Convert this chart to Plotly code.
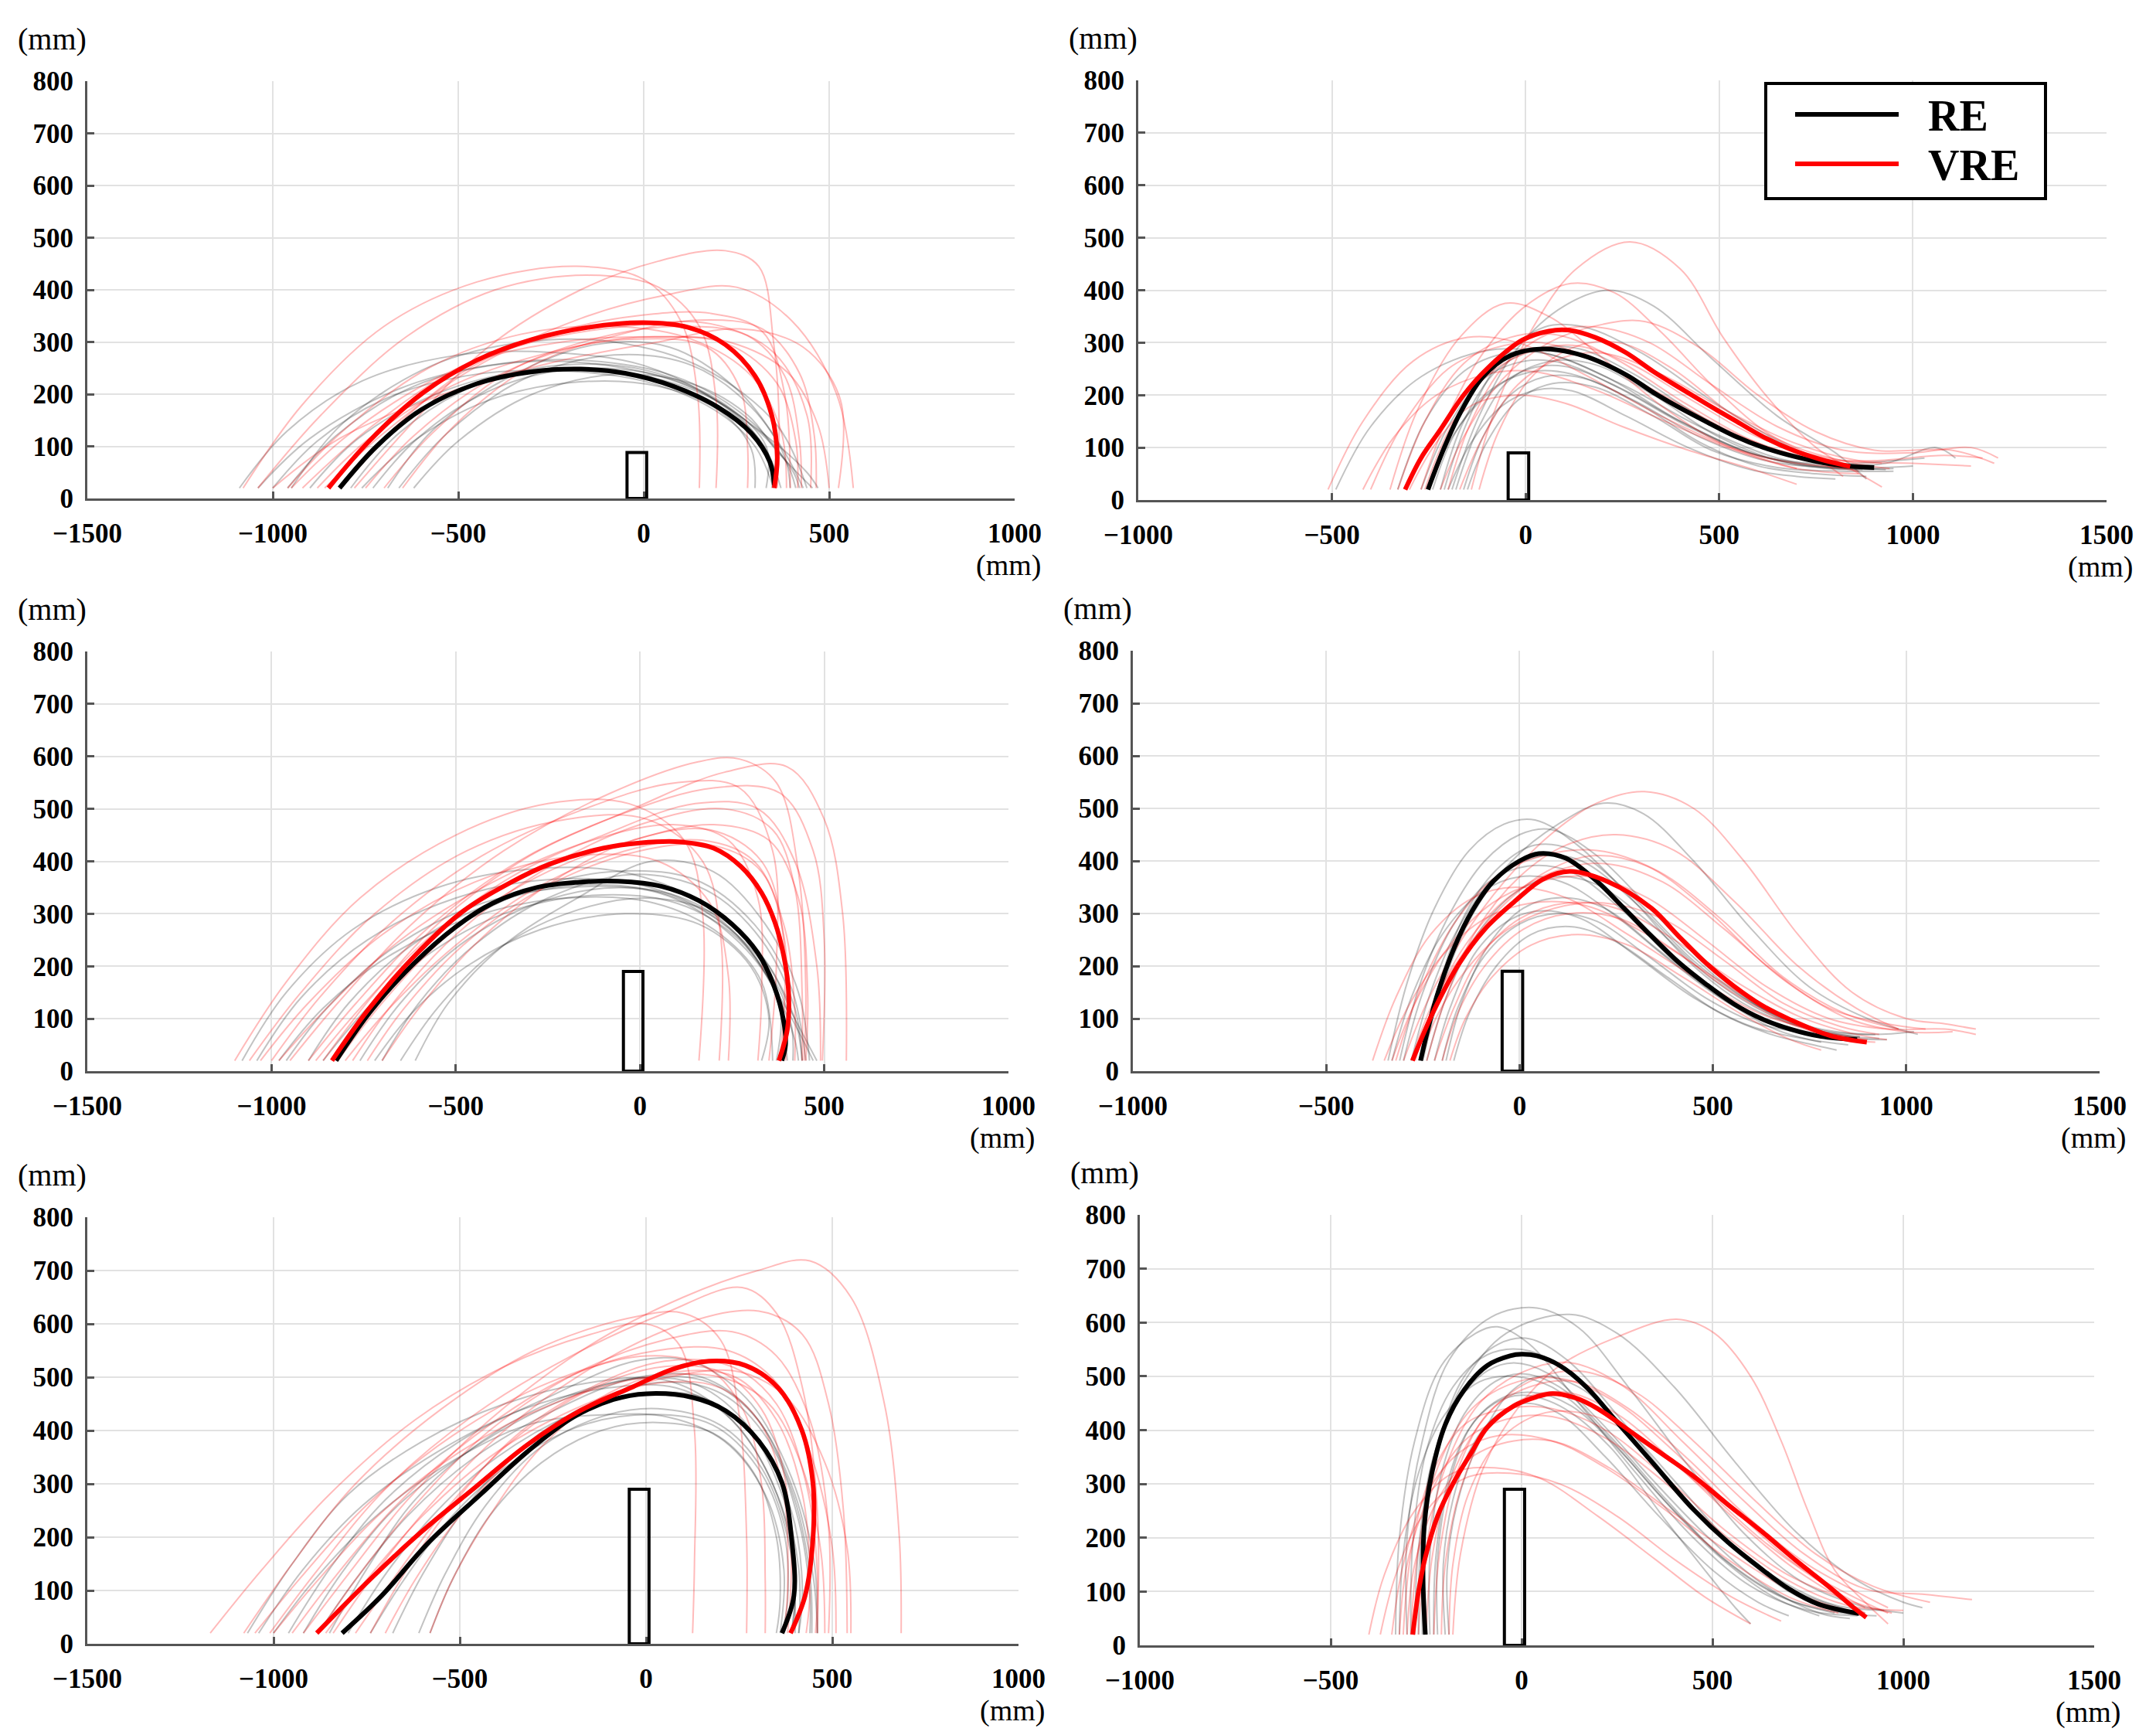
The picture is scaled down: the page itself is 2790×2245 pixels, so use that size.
import plotly.graph_objects as go

# ---------------- DATA (mm) ----------------
X_TICKS_LEFT = [-1500, -1000, -500, 0, 500, 1000]
X_TICKS_RIGHT = [-1000, -500, 0, 500, 1000, 1500]
Y_TICKS = [0, 100, 200, 300, 400, 500, 600, 700, 800]
SERIES_NAMES = ["RE", "VRE"]
OBSTACLE_X = (-45, 8)
OBSTACLE_H = [88, 90, 190, 190, 290, 290]

# Panel 1 (top-left)
P1_RE_MEAN = [(-820,20),(-720,100),(-600,170),(-450,220),(-300,243),(-170,248),(-50,240),(80,215),(200,175),(290,125),(340,70),(352,25)]
P1_VRE_MEAN = [(-850,20),(-740,110),(-600,200),(-450,265),(-300,305),(-150,328),(0,337),(120,328),(220,295),(300,235),(345,160),(360,80),(352,20)]
P1_RE_TRIALS = [
 [(-1090,20),(-960,130),(-760,225),(-500,275),(-250,280),(0,255),(200,185),(320,105),(370,20)],
 [(-1040,20),(-900,115),(-660,210),(-420,255),(-170,265),(80,235),(260,165),(380,75),(410,20)],
 [(-960,20),(-830,120),(-620,215),(-380,258),(-130,258),(120,215),(300,135),(400,55),(420,20)],
 [(-900,20),(-770,115),(-560,200),(-320,245),(-80,245),(160,200),(330,120),(440,50),(470,20)],
 [(-790,20),(-660,125),(-460,215),(-230,255),(10,245),(220,180),(330,100),(330,20)],
 [(-730,20),(-610,115),(-420,205),(-190,248),(60,232),(260,155),(350,60),(345,20)],
 [(-690,20),(-570,130),(-370,230),(-130,295),(70,290),(250,210),(370,100),(430,20)],
 [(-660,20),(-530,125),(-320,230),(-80,275),(130,255),(290,175),(380,80),(395,20)],
 [(-620,20),(-500,110),(-300,200),(-70,238),(130,220),(280,160),(360,90),(455,20)],
 [(-950,20),(-810,145),(-570,255),(-320,300),(-80,300),(160,250),(360,140),(440,20)],
 [(-760,20),(-630,105),(-430,185),(-200,222),(40,215),(210,165),(290,95),(300,20)],
 [(-1000,20),(-880,110),(-700,190),(-480,235),(-250,245),(0,225),(190,170),(300,100),(350,20)],
]
P1_VRE_TRIALS = [
 [(-1080,20),(-920,180),(-700,330),(-450,415),(-180,445),(0,420),(100,340),(145,200),(150,20)],
 [(-1040,20),(-870,160),(-640,310),(-400,400),(-150,428),(40,405),(150,330),(195,190),(195,20)],
 [(-960,20),(-810,130),(-580,250),(-330,315),(-80,330),(130,305),(290,235),(370,130),(385,20)],
 [(-920,20),(-730,140),(-480,255),(-220,300),(30,310),(230,300),(390,240),(470,140),(500,20)],
 [(-1000,20),(-820,115),(-540,200),(-250,260),(40,300),(260,325),(430,290),(530,190),(525,20)],
 [(-860,20),(-710,120),(-470,245),(-170,345),(60,390),(250,405),(400,340),(520,200),(565,20)],
 [(-780,20),(-630,140),(-420,290),(-170,400),(40,455),(220,475),(310,445),(350,300),(365,150),(360,20)],
 [(-700,20),(-570,125),(-360,245),(-110,310),(100,330),(280,312),(380,235),(420,110),(425,20)],
 [(-650,20),(-510,140),(-300,255),(-60,315),(150,342),(320,325),(420,240),(460,120),(465,20)],
 [(-820,20),(-680,130),(-470,250),(-230,320),(-20,350),(180,355),(320,320),(380,200),(395,20)],
 [(-880,20),(-740,115),(-520,215),(-280,275),(-40,305),(170,290),(260,210),(280,100),(280,20)],
 [(-750,20),(-620,120),(-420,225),(-190,290),(30,310),(230,295),(360,220),(410,110),(415,20)],
 [(-950,20),(-800,120),(-560,230),(-300,300),(-50,330),(180,335),(350,280),(440,160),(450,20)],
]

# Panel 2 (top-right)
P2_RE_MEAN = [(-252,20),(-210,100),(-168,167),(-110,235),(-40,275),(45,288),(150,275),(259,239),(330,205),(400,175),(470,148),(540,122),(615,100),(700,82),(793,68),(900,62)]
P2_VRE_MEAN = [(-311,20),(-270,80),(-222,132),(-160,200),(-100,250),(-8,305),(60,322),(108,324),(180,310),(259,281),(330,245),(400,213),(470,182),(540,152),(615,120),(690,95),(760,78),(838,64)]
P2_RE_TRIALS = [
 [(-490,20),(-400,140),(-270,235),(-100,285),(50,280),(250,220),(450,140),(650,80),(800,62),(880,60)],
 [(-210,20),(-150,150),(-60,270),(50,330),(150,330),(300,280),(500,180),(700,95),(850,62),(950,60)],
 [(-190,20),(-120,160),(-20,290),(100,370),(215,400),(330,370),(480,270),(650,160),(800,90),(880,40)],
 [(-160,20),(-110,120),(-40,200),(50,235),(150,232),(300,180),(450,110),(600,65),(750,50),(880,45)],
 [(-240,20),(-180,130),(-90,210),(20,245),(120,240),(280,190),(450,120),(620,75),(800,60),(900,58)],
 [(-150,20),(-100,110),(-20,190),(70,222),(180,215),(330,160),(480,95),(650,62),(820,55),(950,55)],
 [(-270,20),(-200,140),(-110,230),(0,265),(100,260),(250,210),(420,140),(600,85),(780,68),(930,70),(1060,100),(1110,80)],
 [(-220,20),(-160,150),(-70,250),(40,290),(140,288),(280,240),(450,160),(630,95),(800,70),(950,75),(1030,80)],
 [(-180,20),(-120,140),(-40,230),(70,265),(180,258),(330,200),(500,120),(680,70),(850,60),(930,58)],
 [(-330,20),(-260,150),(-160,245),(-50,280),(60,278),(220,230),(400,150),(600,85),(800,62),(1000,65)],
 [(-200,20),(-140,110),(-60,180),(30,210),(120,208),(260,160),(420,100),(580,58),(700,45),(800,40)],
 [(-250,20),(-190,120),(-100,200),(10,250),(100,255),(240,215),(400,150),(580,90),(760,62),(870,58)],
]
P2_VRE_TRIALS = [
 [(-510,20),(-420,150),(-290,265),(-150,310),(-20,300),(150,240),(350,160),(550,95),(700,70),(900,60)],
 [(-140,20),(-80,170),(20,330),(130,440),(270,492),(400,440),(510,310),(620,200),(750,100),(850,55),(920,25)],
 [(-270,20),(-200,160),(-110,280),(0,370),(117,413),(230,395),(350,320),(480,220),(620,130),(760,75),(820,45)],
 [(-350,20),(-280,170),(-170,310),(-53,375),(60,350),(200,270),(350,180),(500,110),(650,70),(700,60)],
 [(-220,20),(-160,120),(-60,230),(60,300),(200,335),(310,340),(450,290),(600,200),(750,130),(900,95),(1100,95),(1210,70)],
 [(-300,20),(-230,110),(-140,180),(-20,200),(100,185),(250,140),(420,95),(580,60),(700,30)],
 [(-400,20),(-320,140),(-200,250),(-80,290),(40,300),(200,260),(380,190),(560,120),(740,80),(900,75),(1080,85),(1180,80)],
 [(-200,20),(-140,150),(-50,260),(70,320),(180,330),(320,300),(480,220),(650,140),(820,95),(1000,90),(1150,100),(1220,80)],
 [(-260,20),(-200,130),(-110,230),(0,280),(120,295),(270,260),(430,190),(600,120),(780,80),(920,70)],
 [(-170,20),(-110,120),(-20,220),(90,270),(200,280),(350,240),(520,170),(690,110),(860,75),(1000,70),(1150,65)],
 [(-420,20),(-340,120),(-230,200),(-100,240),(20,245),(180,210),(360,150),(540,95),(700,60),(860,50)],
 [(-330,20),(-260,150),(-160,260),(-40,310),(80,315),(230,270),(400,190),(580,115),(760,70),(860,55)],
 [(-120,20),(-70,130),(10,230),(120,290),(240,300),(380,250),(540,160),(700,100),(850,70),(940,60)],
]

# Panel 3 (middle-left)
P3_RE_MEAN = [(-825,20),(-730,115),(-614,205),(-500,275),(-400,320),(-280,350),(-170,360),(-60,362),(60,352),(160,325),(250,280),(320,225),(365,160),(390,95),(395,50),(385,20)]
P3_VRE_MEAN = [(-836,20),(-740,115),(-614,218),(-480,305),(-350,360),(-244,395),(-100,425),(0,435),(110,437),(200,425),(274,390),(330,340),(366,284),(390,220),(403,153),(400,80),(377,20)]
P3_RE_TRIALS = [
 [(-1080,20),(-960,150),(-780,270),(-550,350),(-300,385),(-50,380),(170,320),(330,220),(420,100),(440,20)],
 [(-1040,20),(-920,140),(-740,250),(-500,330),(-250,365),(0,355),(200,295),(350,190),(410,90),(415,20)],
 [(-960,20),(-850,120),(-680,230),(-450,315),(-200,350),(50,340),(230,270),(360,160),(400,20)],
 [(-900,20),(-790,130),(-620,240),(-400,320),(-150,355),(80,335),(260,260),(380,140),(470,20)],
 [(-860,20),(-740,120),(-580,220),(-370,300),(-130,335),(100,320),(270,250),(370,150),(420,60),(430,20)],
 [(-760,20),(-650,130),(-490,240),(-280,320),(-50,350),(150,320),(300,230),(380,120),(370,20)],
 [(-700,20),(-600,130),(-450,240),(-250,330),(-20,375),(180,345),(330,250),(420,120),(440,20)],
 [(-650,20),(-550,120),(-400,225),(-200,300),(20,330),(200,300),(340,210),(420,100),(480,20)],
 [(-610,20),(-520,130),(-370,240),(-170,330),(30,400),(200,380),(340,280),(430,150),(460,20)],
 [(-820,20),(-700,140),(-530,260),(-320,340),(-80,380),(150,365),(310,280),(410,160),(450,20)],
 [(-980,20),(-860,120),(-680,220),(-450,295),(-200,330),(40,320),(220,260),(330,170),(360,20)],
 [(-720,20),(-620,110),(-470,200),(-270,270),(-40,300),(160,280),(300,200),(350,100),(330,20)],
]
P3_VRE_TRIALS = [
 [(-1100,20),(-960,170),(-760,330),(-500,450),(-250,510),(-30,510),(120,440),(170,300),(160,20)],
 [(-1060,20),(-920,150),(-720,300),(-470,420),(-200,480),(20,480),(170,400),(220,250),(215,20)],
 [(-1000,20),(-870,140),(-680,280),(-430,410),(-150,500),(100,550),(270,540),(360,420),(370,200),(350,20)],
 [(-950,20),(-820,130),(-620,280),(-370,420),(-80,530),(160,590),(270,595),(370,550),(430,380),(450,150),(445,20)],
 [(-900,20),(-770,130),(-580,270),(-330,400),(-50,490),(200,540),(380,530),(470,420),(500,250),(495,20)],
 [(-860,20),(-730,140),(-550,280),(-300,410),(-20,500),(230,570),(400,580),(500,480),(550,300),(560,20)],
 [(-820,20),(-700,130),(-520,260),(-280,370),(-20,440),(200,470),(350,440),(430,330),(455,150),(450,20)],
 [(-780,20),(-670,130),(-500,260),(-270,380),(0,470),(230,500),(360,460),(420,350),(440,150),(440,20)],
 [(-740,20),(-640,120),(-480,240),(-260,350),(0,420),(200,430),(330,380),(390,260),(400,100),(395,20)],
 [(-700,20),(-600,120),(-450,240),(-240,360),(-20,440),(190,460),(330,400),(390,250),(380,20)],
 [(-980,20),(-850,120),(-650,250),(-400,360),(-130,440),(90,470),(240,440),(320,330),(330,150),(320,20)],
 [(-880,20),(-760,120),(-580,250),(-350,370),(-100,450),(150,510),(320,500),(420,400),(480,200),(490,20)],
 [(-1030,20),(-900,130),(-700,260),(-450,360),(-180,410),(50,400),(190,320),(240,180),(240,20)],
 [(-800,20),(-680,120),(-500,240),(-280,350),(-40,420),(170,440),(310,400),(390,280),(420,120),(420,20)],
]

# Panel 4 (middle-right)
P4_RE_MEAN = [(-256,20),(-215,140),(-156,257),(-110,320),(-67,362),(0,400),(50,414),(120,405),(199,362),(270,310),(341,257),(410,208),(483,165),(554,128),(625,100),(700,80),(780,66),(873,60)]
P4_VRE_MEAN = [(-277,20),(-225,110),(-156,205),(-90,270),(-14,322),(60,365),(130,380),(230,360),(341,310),(410,258),(483,205),(554,162),(625,126),(700,98),(802,68),(898,55)]
P4_RE_TRIALS = [
 [(-340,20),(-290,170),(-220,310),(-130,420),(-40,470),(40,478),(150,430),(300,320),(450,200),(600,120),(750,80),(880,65)],
 [(-310,20),(-260,160),(-180,300),(-90,400),(0,450),(80,460),(200,410),(350,300),(500,190),(650,110),(800,75),(920,70)],
 [(-280,20),(-230,150),(-160,270),(-60,370),(60,410),(160,400),(300,320),(450,210),(600,130),(750,85),(900,70),(1020,75)],
 [(-250,20),(-200,160),(-120,300),(-20,400),(100,470),(217,510),(320,490),(450,400),(600,270),(750,160),(900,100),(1030,70)],
 [(-220,20),(-180,120),(-110,230),(-20,290),(60,305),(160,290),(300,220),(450,140),(600,85),(750,60),(850,50)],
 [(-200,20),(-160,120),(-90,220),(0,280),(100,300),(200,285),(330,220),(480,140),(620,90),(760,70),(870,60)],
 [(-300,20),(-250,150),(-170,280),(-80,360),(20,390),(130,380),(260,310),(400,210),(550,130),(700,80),(860,60)],
 [(-260,20),(-210,160),(-140,300),(-50,390),(40,430),(140,420),(280,340),(430,230),(580,140),(730,85),(880,65)],
 [(-190,20),(-150,130),(-80,240),(10,310),(110,330),(220,310),(360,230),(520,140),(660,80),(780,55)],
 [(-330,20),(-280,140),(-200,260),(-100,340),(0,370),(110,360),(240,300),(390,210),(540,130),(700,80),(850,62),(950,60)],
 [(-240,20),(-190,140),(-110,260),(-10,340),(90,370),(200,355),(340,280),(490,180),(640,110),(790,72),(930,62)],
 [(-170,20),(-130,110),(-60,200),(30,260),(130,275),(240,250),(380,180),(520,110),(650,70),(760,50),(820,40)],
]
P4_VRE_TRIALS = [
 [(-380,20),(-320,140),(-230,260),(-120,330),(-10,350),(120,330),(280,260),(450,180),(620,110),(780,75),(900,60)],
 [(-330,20),(-270,130),(-180,240),(-70,320),(50,360),(180,370),(330,330),(480,250),(640,160),(800,100),(950,80),(1100,80),(1180,70)],
 [(-300,20),(-240,130),(-150,250),(-40,360),(80,450),(200,510),(323,532),(450,500),(580,400),(720,260),(860,150),(1000,100),(1100,90),(1180,80)],
 [(-280,20),(-230,120),(-150,220),(-50,310),(70,380),(190,410),(330,390),(480,310),(640,200),(800,120),(950,90),(1050,80)],
 [(-260,20),(-210,110),(-130,200),(-30,270),(90,310),(220,320),(370,290),(530,210),(680,130),(830,85),(930,70)],
 [(-240,20),(-190,140),(-110,270),(0,370),(120,430),(250,450),(400,420),(560,320),(720,200),(870,120),(980,80)],
 [(-220,20),(-170,120),(-100,220),(0,290),(120,320),(250,310),(400,250),(560,170),(720,105),(870,70),(950,60)],
 [(-320,20),(-260,150),(-170,280),(-60,370),(60,410),(200,420),(360,380),(520,290),(680,180),(840,110),(980,80)],
 [(-200,20),(-160,110),(-90,200),(10,270),(130,300),(260,290),(400,230),(550,150),(700,90),(850,60),(920,55)],
 [(-350,20),(-290,120),(-200,220),(-90,290),(30,320),(170,315),(330,260),(500,180),(660,110),(800,70),(880,55)],
 [(-180,20),(-140,100),(-70,180),(30,240),(150,260),(280,240),(420,180),(570,110),(700,60),(780,40)],
 [(-270,20),(-220,130),(-140,240),(-30,330),(90,380),(220,395),(370,360),(530,270),(690,170),(850,100),(1000,75),(1120,75)],
]

# Panel 5 (bottom-left)
P5_RE_MEAN = [(-816,20),(-710,90),(-585,189),(-443,281),(-319,360),(-195,425),(-88,458),(1,469),(125,462),(214,437),(303,380),(365,302),(391,196),(397,90),(365,20)]
P5_VRE_MEAN = [(-884,20),(-745,118),(-603,210),(-461,292),(-319,373),(-177,437),(-35,482),(72,515),(169,530),(267,522),(356,479),(418,401),(448,302),(448,196),(427,90),(388,20)]
P5_RE_TRIALS = [
 [(-1070,20),(-950,150),(-800,280),(-600,380),(-380,450),(-150,490),(50,495),(200,440),(320,330),(390,180),(400,20)],
 [(-1040,20),(-920,140),(-760,260),(-560,360),(-330,440),(-100,480),(80,480),(230,420),(340,300),(400,150),(390,20)],
 [(-920,20),(-820,130),(-680,250),(-500,350),(-280,440),(-50,495),(120,490),(260,420),(360,290),(410,140),(410,20)],
 [(-880,20),(-780,120),(-640,240),(-460,350),(-240,440),(-20,500),(150,500),(290,430),(390,290),(440,130),(445,20)],
 [(-800,20),(-700,130),(-560,250),(-400,350),(-200,430),(0,470),(160,460),(300,380),(390,250),(420,100),(410,20)],
 [(-740,20),(-650,120),(-520,240),(-360,340),(-170,410),(20,430),(180,410),(300,330),(370,210),(380,80),(365,20)],
 [(-680,20),(-600,130),(-480,260),(-330,370),(-150,450),(30,490),(200,470),(330,380),(410,230),(440,90),(440,20)],
 [(-610,20),(-540,130),(-430,260),(-280,370),(-100,430),(50,440),(200,410),(310,330),(380,200),(400,80),(390,20)],
 [(-580,20),(-520,120),(-420,240),(-280,340),(-120,400),(30,415),(180,395),(290,320),(350,200),(360,80),(350,20)],
 [(-960,20),(-850,140),(-700,270),(-500,380),(-270,460),(-30,530),(120,530),(270,460),(380,330),(450,160),(460,20)],
 [(-1000,20),(-890,120),(-740,230),(-550,330),(-320,410),(-100,430),(60,425),(210,380),(320,280),(370,140),(360,20)],
 [(-850,20),(-750,140),(-620,270),(-440,380),(-230,460),(0,500),(170,490),(300,420),(400,280),(450,120),(460,20)],
]
P5_VRE_TRIALS = [
 [(-1170,20),(-1030,140),(-850,280),(-620,420),(-380,520),(-150,580),(0,600),(90,560),(130,400),(130,150),(125,20)],
 [(-1080,20),(-950,150),(-780,300),(-550,440),(-300,550),(-50,610),(100,620),(200,570),(250,430),(270,200),(270,20)],
 [(-1010,20),(-880,140),(-700,290),(-460,430),(-200,540),(50,620),(258,668),(350,620),(420,480),(460,250),(460,20)],
 [(-920,20),(-800,130),(-640,270),(-420,420),(-150,560),(100,650),(300,700),(440,718),(550,650),(640,450),(680,200),(685,20)],
 [(-880,20),(-770,130),(-620,260),(-420,400),(-180,510),(50,570),(232,585),(350,540),(440,420),(490,220),(490,20)],
 [(-840,20),(-730,130),(-580,260),(-380,400),(-140,520),(100,600),(303,624),(420,580),(490,450),(530,250),(540,20)],
 [(-780,20),(-680,120),(-540,250),(-360,380),(-140,480),(50,520),(200,510),(310,440),(370,320),(390,150),(380,20)],
 [(-740,20),(-650,130),(-520,260),(-350,390),(-150,480),(50,530),(230,520),(350,450),(430,300),(460,130),(455,20)],
 [(-700,20),(-620,120),(-500,240),(-340,360),(-150,450),(40,490),(200,480),(310,410),(370,280),(380,100),(370,20)],
 [(-580,20),(-520,120),(-420,240),(-280,370),(-100,470),(80,510),(240,500),(350,420),(420,280),(440,100),(430,20)],
 [(-950,20),(-830,130),(-670,260),(-460,390),(-210,500),(30,550),(220,550),(350,490),(440,360),(500,180),(510,20)],
 [(-1050,20),(-920,130),(-750,260),(-520,390),(-260,490),(0,540),(160,520),(260,440),(310,300),(320,120),(320,20)],
 [(-1000,20),(-880,120),(-720,240),(-500,360),(-250,450),(0,500),(200,500),(330,450),(420,330),(470,170),(480,20)],
 [(-860,20),(-750,120),(-600,240),(-400,360),(-160,450),(60,500),(250,510),(380,460),(480,340),(540,180),(550,20)],
]

# Panel 6 (bottom-right)
P6_RE_MEAN = [(-252,20),(-258,120),(-255,220),(-235,320),(-200,410),(-150,475),(-90,520),(-30,538),(0,541),(40,538),(100,520),(170,480),(250,415),(340,342),(451,252),(540,192),(632,140),(700,105),(776,77),(884,59)]
P6_VRE_MEAN = [(-285,20),(-270,100),(-253,161),(-220,240),(-180,300),(-130,360),(-90,405),(-20,445),(40,462),(81,468),(140,460),(199,440),(300,390),(380,350),(451,314),(540,262),(632,210),(720,157),(812,105),(870,70),(903,52)]
P6_RE_TRIALS = [
 [(-330,20),(-320,200),(-280,380),(-210,520),(-120,580),(-63,592),(20,560),(150,450),(300,320),(450,200),(600,110),(750,65),(880,55)],
 [(-300,20),(-300,200),(-260,380),(-190,530),(-80,610),(40,627),(150,590),(280,480),(430,340),(580,210),(730,120),(880,75),(1000,60)],
 [(-280,20),(-270,180),(-230,350),(-150,490),(-40,580),(126,615),(250,580),(400,480),(560,340),(720,210),(880,120),(1000,80),(1050,70)],
 [(-260,20),(-255,200),(-220,370),(-150,500),(-60,560),(20,570),(120,530),(260,420),(420,280),(570,170),(720,100),(860,65)],
 [(-240,20),(-240,170),(-210,320),(-150,430),(-70,490),(0,505),(100,480),(230,390),(380,270),(530,160),(680,90),(820,60)],
 [(-220,20),(-220,160),(-190,300),(-130,410),(-50,460),(30,470),(130,445),(260,360),(400,250),(550,150),(700,85),(840,60),(930,55)],
 [(-200,20),(-205,150),(-180,270),(-130,370),(-60,430),(10,450),(100,430),(220,350),(360,240),(500,140),(620,80),(700,55)],
 [(-320,20),(-310,170),(-270,320),(-200,430),(-110,490),(-20,500),(80,480),(210,400),(360,280),(510,170),(660,90),(780,55)],
 [(-190,20),(-195,140),(-170,260),(-110,380),(-30,470),(50,500),(150,480),(280,400),(420,290),(560,180),(700,100),(820,65),(900,60)],
 [(-290,20),(-285,190),(-250,360),(-180,480),(-90,540),(0,550),(100,520),(230,430),(380,310),(530,200),(680,120),(820,75),(950,65)],
 [(-270,20),(-265,180),(-235,340),(-170,450),(-90,510),(-20,525),(70,505),(200,420),(340,310),(490,200),(640,110),(780,60),(860,50)],
 [(-230,20),(-225,160),(-195,300),(-140,400),(-70,450),(0,465),(100,445),(230,370),(380,230),(480,140),(560,70),(600,40)],
]
P6_VRE_TRIALS = [
 [(-400,20),(-360,130),(-280,250),(-180,320),(-70,330),(50,310),(200,240),(350,160),(480,90),(600,40)],
 [(-370,20),(-330,130),(-260,240),(-150,310),(-30,320),(100,300),(250,240),(400,160),(550,90),(680,45)],
 [(-340,20),(-310,150),(-250,280),(-160,360),(-60,390),(80,380),(220,330),(380,250),(540,160),(700,90),(830,60)],
 [(-310,20),(-290,170),(-240,310),(-150,410),(-40,440),(80,440),(220,400),(380,310),(540,210),(700,130),(850,85),(970,60)],
 [(-290,20),(-270,180),(-220,330),(-130,440),(-10,490),(110,495),(250,450),(400,360),(560,250),(720,150),(870,90),(960,60)],
 [(-270,20),(-250,180),(-200,330),(-110,450),(10,510),(130,525),(270,480),(420,380),(580,270),(740,170),(900,105),(1050,95),(1180,85)],
 [(-250,20),(-235,160),(-190,300),(-100,420),(20,490),(150,510),(300,470),(450,380),(610,270),(770,170),(920,110),(1070,80)],
 [(-230,20),(-215,170),(-170,320),(-90,430),(20,480),(140,490),(280,440),(430,350),(590,240),(750,150),(890,95),(960,70)],
 [(-210,20),(-200,150),(-160,290),(-90,400),(10,460),(120,470),(250,430),(400,340),(550,240),(700,150),(830,90),(900,60)],
 [(-190,20),(-180,150),(-140,280),(-60,380),(50,430),(170,430),(320,380),(480,290),(640,190),(800,110),(900,70)],
 [(-300,20),(-280,150),(-220,270),(-130,350),(-20,380),(90,378),(230,330),(390,250),(550,170),(710,100),(850,65)],
 [(-180,20),(-160,170),(-100,330),(0,450),(100,520),(240,570),(406,606),(505,580),(600,500),(680,380),(750,250),(820,140),(900,80),(960,40)],
 [(-320,20),(-300,150),(-240,280),(-150,380),(-40,420),(80,425),(220,385),(380,300),(540,200),(700,120),(850,75),(1000,65)],
]

# ---------------- LAYOUT ----------------
W, H = 2790, 2245
# panel pixel boxes: (left, top, right, bottom)
BOXES = [
    (113, 105, 1313, 645),
    (1473, 104, 2726, 647),
    (113, 843, 1305, 1386),
    (1466, 842, 2717, 1386),
    (113, 1575, 1318, 2127),
    (1475, 1572, 2710, 2129),
]

PANELS = [
    (P1_RE_TRIALS, P1_VRE_TRIALS, P1_RE_MEAN, P1_VRE_MEAN),
    (P2_RE_TRIALS, P2_VRE_TRIALS, P2_RE_MEAN, P2_VRE_MEAN),
    (P3_RE_TRIALS, P3_VRE_TRIALS, P3_RE_MEAN, P3_VRE_MEAN),
    (P4_RE_TRIALS, P4_VRE_TRIALS, P4_RE_MEAN, P4_VRE_MEAN),
    (P5_RE_TRIALS, P5_VRE_TRIALS, P5_RE_MEAN, P5_VRE_MEAN),
    (P6_RE_TRIALS, P6_VRE_TRIALS, P6_RE_MEAN, P6_VRE_MEAN),
]

SERIF = "Liberation Serif"
FAINT_BLACK = "rgba(0,0,0,0.24)"
FAINT_RED = "rgba(255,0,0,0.27)"

def px(x):
    return x / W

def py(y):
    return 1 - y / H

fig = go.Figure()
layout = dict(
    width=W, height=H,
    margin=dict(l=0, r=0, t=0, b=0, autoexpand=False),
    paper_bgcolor="white", plot_bgcolor="white",
    showlegend=False,
)
shapes = []
annotations = []

for i, (box, panel) in enumerate(zip(BOXES, PANELS)):
    n = i + 1
    xa = "x" if n == 1 else f"x{n}"
    ya = "y" if n == 1 else f"y{n}"
    right = (i % 2 == 1)
    xticks = X_TICKS_RIGHT if right else X_TICKS_LEFT
    re_trials, vre_trials, re_mean, vre_mean = panel

    for tr in re_trials:
        fig.add_trace(go.Scatter(x=[p[0] for p in tr], y=[p[1] for p in tr], mode="lines",
                                 line=dict(color=FAINT_BLACK, width=2, shape="spline", smoothing=1.0),
                                 xaxis=xa, yaxis=ya, hoverinfo="skip"))
    for tr in vre_trials:
        fig.add_trace(go.Scatter(x=[p[0] for p in tr], y=[p[1] for p in tr], mode="lines",
                                 line=dict(color=FAINT_RED, width=2, shape="spline", smoothing=1.0),
                                 xaxis=xa, yaxis=ya, hoverinfo="skip"))
    fig.add_trace(go.Scatter(x=[p[0] for p in re_mean], y=[p[1] for p in re_mean], mode="lines",
                             name=SERIES_NAMES[0],
                             line=dict(color="black", width=6, shape="spline", smoothing=1.0),
                             xaxis=xa, yaxis=ya))
    fig.add_trace(go.Scatter(x=[p[0] for p in vre_mean], y=[p[1] for p in vre_mean], mode="lines",
                             name=SERIES_NAMES[1],
                             line=dict(color="#ff0000", width=6, shape="spline", smoothing=1.0),
                             xaxis=xa, yaxis=ya))

    l, t, r, b = box
    axis_common = dict(
        showgrid=True, gridcolor="#e2e2e2", gridwidth=2,
        showline=True, linecolor="#555555", linewidth=3,
        ticks="inside", ticklen=9, tickwidth=3, tickcolor="#555555",
        zeroline=False, automargin=False,
        tickfont=dict(family=SERIF, size=35, color="black", weight="bold"),
    )
    layout["xaxis" if n == 1 else f"xaxis{n}"] = dict(
        axis_common, domain=[px(l), px(r)], anchor=ya,
        range=[xticks[0], xticks[-1]], tickvals=xticks,
        ticktext=[str(v).replace("-", "\u2212") for v in xticks],
        ticklabelstandoff=12,
    )
    layout["yaxis" if n == 1 else f"yaxis{n}"] = dict(
        axis_common, domain=[py(b), py(t)], anchor=xa,
        range=[0, 800], tickvals=Y_TICKS, ticklabelstandoff=8,
    )

    # obstacle
    shapes.append(dict(type="rect", xref=xa, yref=ya,
                       x0=OBSTACLE_X[0], x1=OBSTACLE_X[1], y0=0, y1=OBSTACLE_H[i],
                       line=dict(color="black", width=4), fillcolor="rgba(0,0,0,0)", layer="above"))
    # unit labels
    annotations.append(dict(xref="paper", yref="paper", x=px(l - 46), y=py(t - 55),
                            text="(mm)", showarrow=False, xanchor="center", yanchor="middle",
                            font=dict(family=SERIF, size=40, color="black")))
    annotations.append(dict(xref="paper", yref="paper", x=px(r - 8), y=py(b + 86),
                            text="(mm)", showarrow=False, xanchor="center", yanchor="middle",
                            font=dict(family=SERIF, size=38, color="black")))

# legend (drawn in panel 2)
LEG_BOX = (2285, 108, 2647, 257)
shapes.append(dict(type="rect", xref="paper", yref="paper",
                   x0=px(LEG_BOX[0]), x1=px(LEG_BOX[2]), y0=py(LEG_BOX[3]), y1=py(LEG_BOX[1]),
                   line=dict(color="black", width=4), fillcolor="white", layer="above"))
for name, color, yy in [(SERIES_NAMES[0], "black", 148), (SERIES_NAMES[1], "#ff0000", 212)]:
    shapes.append(dict(type="line", xref="paper", yref="paper",
                       x0=px(2323), x1=px(2457), y0=py(yy), y1=py(yy),
                       line=dict(color=color, width=6), layer="above"))
    annotations.append(dict(xref="paper", yref="paper", x=px(2493), y=py(yy + 2),
                            text=name, showarrow=False, xanchor="left", yanchor="middle",
                            font=dict(family=SERIF, size=56, color="black", weight="bold")))

layout["shapes"] = shapes
layout["annotations"] = annotations
fig.update_layout(**layout)
fig.write_html("out.html")
